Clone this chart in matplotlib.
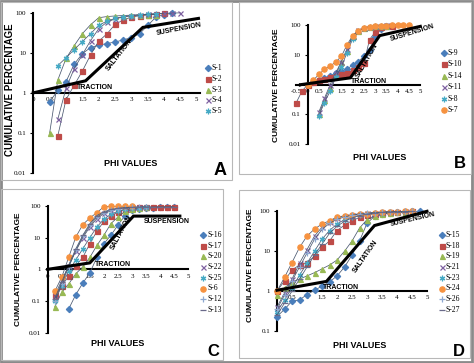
import matplotlib.pyplot as plt
from matplotlib.patches import Rectangle
from matplotlib.lines import Line2D

W, H = 474, 363

# --- Panel A data ---
a_s1_phi = [0.5, 0.75, 1, 1.25, 1.5, 1.75, 2, 2.25, 2.5, 2.75, 3, 3.25, 3.5, 3.75, 4, 4.25]
a_s1 = [0.6, 1.15, 1.9, 5.2, 9.5, 13.5, 15.5, 17, 18.5, 21, 24, 30, 48, 78, 90, 96]
a_s2_phi = [0.75, 1, 1.25, 1.5, 1.75, 2, 2.25, 2.5, 2.75, 3, 3.25, 3.5, 3.75, 4]
a_s2 = [0.085, 0.68, 1.55, 3.5, 8.8, 19.5, 29.5, 51, 66, 78, 84, 88, 92, 96]
a_s3_phi = [0.5, 0.75, 1, 1.25, 1.5, 1.75, 2, 2.25, 2.5, 2.75, 3, 3.25, 3.5, 3.75]
a_s3 = [0.1, 2.1, 7.2, 15, 30, 50, 75, 80, 83, 85, 87, 88, 89, 90]
a_s4_phi = [0.75, 1, 1.25, 1.5, 1.75, 2, 2.25, 2.5, 2.75, 3, 3.25, 3.5, 3.75, 4, 4.25, 4.5]
a_s4 = [0.22, 1.3, 4, 9, 20, 40, 58, 70, 78, 84, 88, 91, 94, 96, 98, 99]
a_s5_phi = [0.75, 1, 1.25, 1.5, 1.75, 2, 2.25, 2.5, 2.75, 3, 3.25, 3.5, 3.75]
a_s5 = [4.8, 7.5, 12, 19, 30, 48, 62, 72, 80, 85, 89, 92, 94]
a_ref_phi = [0, 1.6, 3.35, 5.05]
a_ref = [1.0, 2.0, 43, 72]

# --- Panel B data ---
b_s9_phi = [0, 0.25, 0.5, 0.75, 1, 1.25, 1.5, 1.75, 2, 2.25, 2.5, 2.75, 3, 3.25, 3.5, 3.75]
b_s9 = [1.0, 1.2, 1.4, 1.7, 2.0, 2.4, 2.8, 3.4, 4.5, 6, 9, 15, 40, 75, 92, 97]
b_s10_phi = [-0.5, -0.25, 0, 0.25, 0.5, 0.75, 1, 1.25, 1.5, 1.75, 2, 2.25, 2.5, 2.75, 3, 3.25, 3.5, 3.75]
b_s10 = [0.25, 0.6, 1.0, 1.2, 1.4, 1.6, 1.8, 2.0, 2.2, 2.5, 3.0, 3.8, 5.5, 33, 60, 85, 95, 98]
b_s14_phi = [0.5, 0.75, 1, 1.25, 1.5, 1.75, 2, 2.25, 2.5, 2.75, 3, 3.25, 3.5]
b_s14 = [0.1, 0.3, 0.8, 2.0, 6, 14, 45, 65, 80, 88, 93, 96, 98]
b_s11_phi = [0.5, 0.75, 1, 1.25, 1.5, 1.75, 2, 2.25, 2.5, 2.75, 3, 3.25, 3.5]
b_s11 = [0.12, 0.35, 1.0, 2.5, 6, 16, 45, 68, 82, 90, 94, 97, 99]
b_s8_phi = [0.5, 0.75, 1, 1.25, 1.5, 1.75, 2, 2.25, 2.5, 2.75, 3, 3.25, 3.5]
b_s8 = [0.09, 0.25, 0.6, 1.8, 4, 12, 35, 62, 80, 90, 95, 97, 98]
b_s7_phi = [0, 0.25, 0.5, 0.75, 1, 1.25, 1.5, 1.75, 2, 2.25, 2.5, 2.75, 3, 3.25, 3.5, 3.75, 4, 4.25, 4.5]
b_s7 = [1.0, 1.4, 2.2, 3.3, 4.2, 5.8, 9, 22, 45, 65, 80, 88, 93, 96, 98, 99, 100, 100, 100]
b_ref_phi = [-0.3, 1.9, 3.2, 5.0]
b_ref = [1.0, 1.7, 45, 92]

# --- Panel C data ---
c_s16_phi = [0.75, 1, 1.25, 1.5, 1.75, 2, 2.25, 2.5, 2.75, 3, 3.25, 3.5, 3.75, 4, 4.25, 4.5]
c_s16 = [0.057, 0.16, 0.37, 0.78, 2.4, 6.5, 12, 25, 50, 73, 82, 86, 88, 90, 91, 92]
c_s17_phi = [0.25, 0.5, 0.75, 1, 1.25, 1.5, 1.75, 2, 2.25, 2.5, 2.75, 3, 3.25, 3.5, 3.75, 4, 4.25, 4.5]
c_s17 = [0.15, 0.3, 0.62, 1.3, 2.4, 6.5, 16, 33, 47, 65, 80, 86, 90, 92, 93, 94, 94, 95]
c_s20_phi = [0.25, 0.5, 0.75, 1, 1.25, 1.5, 1.75, 2, 2.25, 2.5, 2.75, 3, 3.25, 3.5]
c_s20 = [0.065, 0.19, 0.35, 0.73, 1.2, 2.4, 5.7, 12, 28, 45, 68, 80, 86, 90]
c_s22_phi = [0.25, 0.5, 0.75, 1, 1.25, 1.5, 1.75, 2, 2.25, 2.5, 2.75, 3, 3.25, 3.5]
c_s22 = [0.15, 0.45, 1.3, 3.8, 10, 22, 40, 58, 70, 80, 86, 90, 92, 93]
c_s25_phi = [0.25, 0.5, 0.75, 1, 1.25, 1.5, 1.75, 2, 2.25, 2.5, 2.75, 3, 3.25, 3.5]
c_s25 = [0.1, 0.3, 0.9, 2.0, 4.5, 10, 22, 38, 55, 68, 78, 85, 89, 92]
c_s6_phi = [0.25, 0.5, 0.75, 1, 1.25, 1.5, 1.75, 2, 2.25, 2.5, 2.75, 3]
c_s6 = [0.2, 0.57, 2.45, 10.5, 26, 42, 62, 95, 97, 98, 98, 98]
c_s12_phi = [0.25, 0.5, 0.75, 1, 1.25, 1.5, 1.75, 2, 2.25, 2.5, 2.75, 3, 3.25, 3.5]
c_s12 = [0.1, 0.35, 1.2, 4, 11, 25, 45, 62, 75, 83, 88, 91, 93, 94]
c_s13_phi = [0.25, 0.5, 0.75, 1, 1.25, 1.5, 1.75, 2, 2.25, 2.5, 2.75, 3, 3.25, 3.5, 3.75, 4, 4.25, 4.5]
c_s13 = [0.12, 0.4, 1.4, 4.5, 12, 28, 50, 66, 78, 85, 89, 91, 92, 93, 93, 94, 94, 94]
c_ref_phi = [0, 1.5, 3.05, 4.7]
c_ref = [1.0, 1.6, 48, 48]

# --- Panel D data ---
d_phi = [0, 0.25, 0.5, 0.75, 1, 1.25, 1.5, 1.75, 2, 2.25, 2.5, 2.75, 3, 3.25, 3.5, 3.75, 4, 4.25, 4.5]
d_s15_phi = [0, 0.25, 0.5, 0.75, 1, 1.25, 1.5, 1.75, 2, 2.25, 2.5, 2.75, 3, 3.25, 3.5, 3.75, 4, 4.25, 4.5, 4.75]
d_s15 = [0.23, 0.35, 0.56, 0.6, 0.82, 1.05, 1.33, 1.7, 2.4, 4, 8, 18, 50, 75, 85, 90, 94, 97, 99, 100]
d_s18 = [1.0, 1.8, 3.4, 4.5, 5.2, 7.4, 12.4, 18, 33, 45, 58, 70, 80, 87, 91, 94, 96, 98, 99]
d_s19 = [0.8, 1.2, 1.7, 2.0, 2.4, 2.9, 3.6, 4.5, 6, 10, 18, 38, 62, 75, 84, 90, 94, 96, 98]
d_s21 = [0.4, 0.9, 2, 5, 11, 24, 40, 55, 68, 76, 82, 87, 90, 93, 95, 97, 98, 99, 99]
d_s23 = [0.3, 0.6, 1.2, 2.5, 5, 10, 20, 33, 48, 62, 72, 80, 86, 90, 93, 96, 97, 98, 99]
d_s24 = [1.0, 2.2, 5.2, 12.4, 24, 36, 48, 58, 72, 77, 80, 85, 88, 91, 94, 96, 98, 99, 100]
d_s26 = [0.35, 0.8, 1.8, 4, 9, 20, 35, 50, 63, 72, 80, 86, 90, 93, 95, 97, 98, 99, 99]
d_s27 = [0.25, 0.5, 1.0, 2, 4, 8, 15, 28, 42, 56, 68, 78, 85, 90, 94, 96, 97, 98, 99]
d_ref_phi = [0, 1.65, 3.25, 5.0]
d_ref = [1.05, 1.75, 44, 100]

# --- Excel-like series styles ---
styles = [
    ('D', '#4A7EBB', 3.2),
    ('s', '#BE4B48', 3.6),
    ('^', '#98B954', 3.6),
    ('x', '#7D60A0', 3.6),
    ((6, 2, 0), '#46AAC5', 4.0),
    ('o', '#F69240', 3.8),
    ('+', '#8EA8D0', 4.0),
    ('_', '#6A6A8A', 4.0),
]
line_col = '#4A5870'

plt.rcParams['font.family'] = 'Liberation Sans'
fig = plt.figure(figsize=(W / 100, H / 100), dpi=100)


def px_box(x0, y0, x1, y1):
    return [x0 / W, 1 - y1 / H, (x1 - x0) / W, (y1 - y0) / H]


# outer border and panel frames
fig.patches.append(Rectangle((0.002, 0.003), 0.994, 0.993, transform=fig.transFigure,
                             fill=False, ec='#8a8a8a', lw=2))
for fx0, fy0, fx1, fy1 in [(1, 2, 232, 180), (239, 2, 471, 174), (1, 189, 223, 360), (239, 190, 470, 358)]:
    fig.patches.append(Rectangle((fx0 / W, 1 - fy1 / H), (fx1 - fx0) / W, (fy1 - fy0) / H,
                                 transform=fig.transFigure, fill=False, ec='#b8b8b8', lw=0.8))


def panel(box, xmin, xmax, ymin, series, names, ref_phi, ref_vals, labels, leg_xy, leg_gap):
    ax = fig.add_axes(px_box(*box))
    ax.set_yscale('log')
    ax.set_xlim(xmin, xmax)
    ax.set_ylim(ymin, 100)
    for (phi, vals), (mk, col, ms) in zip(series, styles):
        ax.plot(phi, vals, color=line_col, lw=0.55, marker=mk, mfc=col, mec=col,
                ms=ms, mew=0.9, clip_on=False, zorder=3)
    ax.plot(ref_phi, ref_vals, color='black', lw=2.2, clip_on=False, zorder=4,
            solid_joinstyle='miter')
    for txt, px, py, rot in labels:
        ax.text(px, py, txt, fontsize=5, fontweight='bold', rotation=rot,
                ha='center', va='center', zorder=5)
    ax.spines['top'].set_visible(False)
    ax.spines['right'].set_visible(False)
    ax.spines['left'].set_position(('data', 0))
    ax.spines['bottom'].set_position(('data', 1))
    ax.spines['left'].set_linewidth(1.5)
    ax.spines['bottom'].set_linewidth(1.5)
    ticks = [t / 2 for t in range(int(xmin * 2), 11)]
    ax.set_xticks(ticks)
    ax.set_xticklabels(['%g' % t for t in ticks], family='Liberation Serif', fontsize=5)
    yt = [v for v in [0.01, 0.1, 1, 10, 100] if v >= ymin]
    ax.set_yticks(yt)
    ax.set_yticklabels(['%g' % v for v in yt], family='Liberation Serif', fontsize=5)
    ax.minorticks_off()
    ax.tick_params(axis='x', length=0, pad=3)
    ax.tick_params(axis='y', length=2.5, width=0.8, pad=2.5)
    ax.patch.set_alpha(0)
    # legend drawn as markers with serif labels
    lx, ly = leg_xy
    for i, (nm, (mk, col, ms)) in enumerate(zip(names, styles)):
        yy = ly + i * leg_gap
        fig.add_artist(Line2D([(lx) / W], [1 - yy / H], marker=mk, color=col, mfc=col, mec=col,
                              ms=ms, mew=0.9, transform=fig.transFigure))
        fig.text((lx + 4) / W, 1 - yy / H, nm, family='Liberation Serif', fontsize=5.5,
                 va='center', ha='left')
    return ax


# --- Panel A ---
panel((33.3, 12.7, 200.1, 173), 0, 5.1, 0.01,
      [(a_s1_phi, a_s1), (a_s2_phi, a_s2), (a_s3_phi, a_s3), (a_s4_phi, a_s4), (a_s5_phi, a_s5)],
      ['S-1', 'S-2', 'S-3', 'S-4', 'S-5'], a_ref_phi, a_ref,
      [('TRACTION', 1.9, 1.35, 0), ('SALTATION', 2.62, 8.7, 52), ('SUSPENSION', 4.45, 38, 11)],
      (208, 68), 10.8)
fig.text(10 / W, 1 - 90 / H, 'CUMULATIVE PERCENTAGE', rotation=90, fontsize=7, fontweight='bold',
         ha='center', va='center')
fig.text(131 / W, 1 - 164 / H, 'PHI VALUES', fontsize=6.5, fontweight='bold', ha='center', va='center')
fig.text(220 / W, 1 - 170 / H, 'A', fontsize=13, fontweight='bold', ha='center', va='center')

# --- Panel B ---
panel((296.3, 25.3, 420.3, 144), -0.5, 5, 0.01,
      [(b_s9_phi, b_s9), (b_s10_phi, b_s10), (b_s14_phi, b_s14), (b_s11_phi, b_s11),
       (b_s8_phi, b_s8), (b_s7_phi, b_s7)],
      ['S-9', 'S-10', 'S-14', 'S-11', 'S-8', 'S-7'], b_ref_phi, b_ref,
      [('TRACTION', 2.74, 1.3, 0), ('SALTATION', 2.64, 6.6, 60), ('SUSPENSION', 4.64, 54, 17)],
      (444, 53), 11.4)
fig.text(276 / W, 1 - 85 / H, 'CUMULATIVE PERCENTAGE', rotation=90, fontsize=6, fontweight='bold',
         ha='center', va='center')
fig.text(380 / W, 1 - 157 / H, 'PHI VALUES', fontsize=6.5, fontweight='bold', ha='center', va='center')
fig.text(460 / W, 1 - 163 / H, 'B', fontsize=12, fontweight='bold', ha='center', va='center')

# --- Panel C ---
panel((47.7, 206, 188.3, 332.7), 0, 5, 0.01,
      [(c_s16_phi, c_s16), (c_s17_phi, c_s17), (c_s20_phi, c_s20), (c_s22_phi, c_s22),
       (c_s25_phi, c_s25), (c_s6_phi, c_s6), (c_s12_phi, c_s12), (c_s13_phi, c_s13)],
      ['S-16', 'S-17', 'S-20', 'S-22', 'S-25', 'S-6', 'S-12', 'S-13'], c_ref_phi, c_ref,
      [('TRACTION', 2.31, 1.4, 0), ('SALTATION', 2.64, 15, 62), ('SUSPENSION', 4.25, 33, 0)],
      (203, 235), 10.7)
fig.text(19 / W, 1 - 269 / H, 'CUMULATIVE PERCENTAGE', rotation=90, fontsize=6, fontweight='bold',
         ha='center', va='center')
fig.text(118 / W, 1 - 344 / H, 'PHI VALUES', fontsize=6.5, fontweight='bold', ha='center', va='center')
fig.text(213 / W, 1 - 352 / H, 'C', fontsize=12, fontweight='bold', ha='center', va='center')

# --- Panel D ---
panel((277, 211.3, 427, 331), 0, 5, 0.1,
      [(d_s15_phi, d_s15), (d_phi, d_s18), (d_phi, d_s19), (d_phi, d_s21), (d_phi, d_s23),
       (d_phi, d_s24), (d_phi, d_s26), (d_phi, d_s27)],
      ['S-15', 'S-18', 'S-19', 'S-21', 'S-23', 'S-24', 'S-26', 'S-27'], d_ref_phi, d_ref,
      [('TRACTION', 2.13, 1.2, 0), ('SALTATION', 2.94, 7.3, 55), ('SUSPENSION', 4.52, 64, 13)],
      (442, 235), 10.7)
fig.text(251 / W, 1 - 265 / H, 'CUMULATIVE PERCENTAGE', rotation=90, fontsize=6, fontweight='bold',
         ha='center', va='center')
fig.text(360 / W, 1 - 345 / H, 'PHI VALUES', fontsize=6.5, fontweight='bold', ha='center', va='center')
fig.text(459 / W, 1 - 352 / H, 'D', fontsize=12, fontweight='bold', ha='center', va='center')

fig.savefig('out.png', dpi=100)
